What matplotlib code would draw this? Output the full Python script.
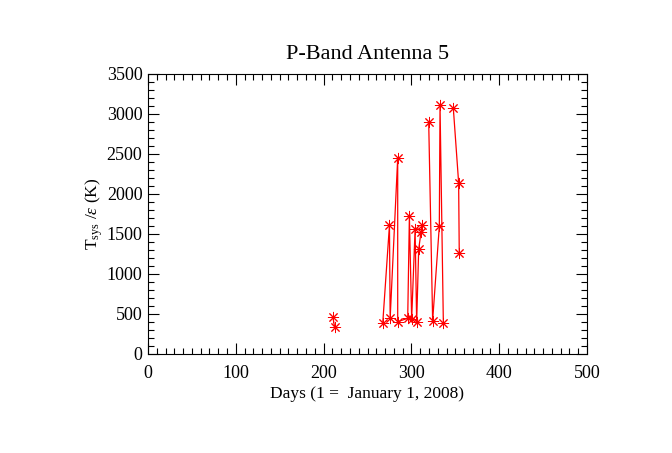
import matplotlib
matplotlib.use("Agg")
import matplotlib.pyplot as plt
from matplotlib.ticker import MultipleLocator
import numpy as np

# Data (day of year, Tsys/eps in K), grouped into connected runs
days = [210.6, 212.5,
        267.4, 275.0, 275.8, 284.4, 284.4, 295.8, 297.7, 300.3, 304.2, 306.0, 308.3, 311.0, 312.2,
        319.7, 324.2, 331.8, 332.6, 336.4,
        347.7, 353.8, 354.5]
tsys = [459, 341,
        391, 1610, 446, 2450, 404, 446, 1720, 437, 1559, 396, 1309, 1529, 1610,
        2900, 416, 1600, 3110, 384,
        3080, 2140, 1260]
segment = [0, 0,
           1, 1, 1, 1, 1, 1, 1, 1, 1, 1, 1, 1, 1,
           2, 2, 2, 2, 2,
           3, 3, 3]

title = "P-Band Antenna 5"
xlabel = "Days (1 =  January 1, 2008)"
ylabel = r"T$_{\rm sys}$ /$\epsilon$ (K)"

plt.rcParams['font.family'] = ['Liberation Serif', 'DejaVu Serif']
plt.rcParams['mathtext.fontset'] = 'custom'
plt.rcParams['mathtext.rm'] = 'Liberation Serif'
plt.rcParams['mathtext.it'] = 'Liberation Serif:italic'

fig = plt.figure(figsize=(6.72, 4.53), dpi=100)
ax = fig.add_axes([148/672, 1-354/453, (587-148)/672, (354-74)/453])

d = np.array(days); t = np.array(tsys); s = np.array(segment)
for k in np.unique(s):
    m = s == k
    ax.plot(d[m], t[m], color='#ff0000', lw=0.9, marker=(8, 2, 0), ms=8, mew=0.7,
            mec='#ff0000')

ax.set_xlim(0, 500)
ax.set_ylim(0, 3500)
ax.xaxis.set_major_locator(MultipleLocator(100))
ax.xaxis.set_minor_locator(MultipleLocator(10))
ax.yaxis.set_major_locator(MultipleLocator(500))
ax.yaxis.set_minor_locator(MultipleLocator(100))
ax.tick_params(which='both', direction='in', top=True, right=True, labelsize=13, colors='black')
ax.tick_params(axis='x', which='major', pad=8)
ax.tick_params(axis='y', which='major', pad=4)
ax.tick_params(which='major', length=8, width=0.8)
ax.tick_params(which='minor', length=4, width=0.8)
for sp in ax.spines.values():
    sp.set_linewidth(0.8)

ax.set_title(title, fontsize=16, pad=11)
ax.set_xlabel(xlabel, fontsize=12.5, labelpad=3)
ax.set_ylabel(ylabel, fontsize=12.5, labelpad=1)

fig.savefig("out.png", dpi=100)
